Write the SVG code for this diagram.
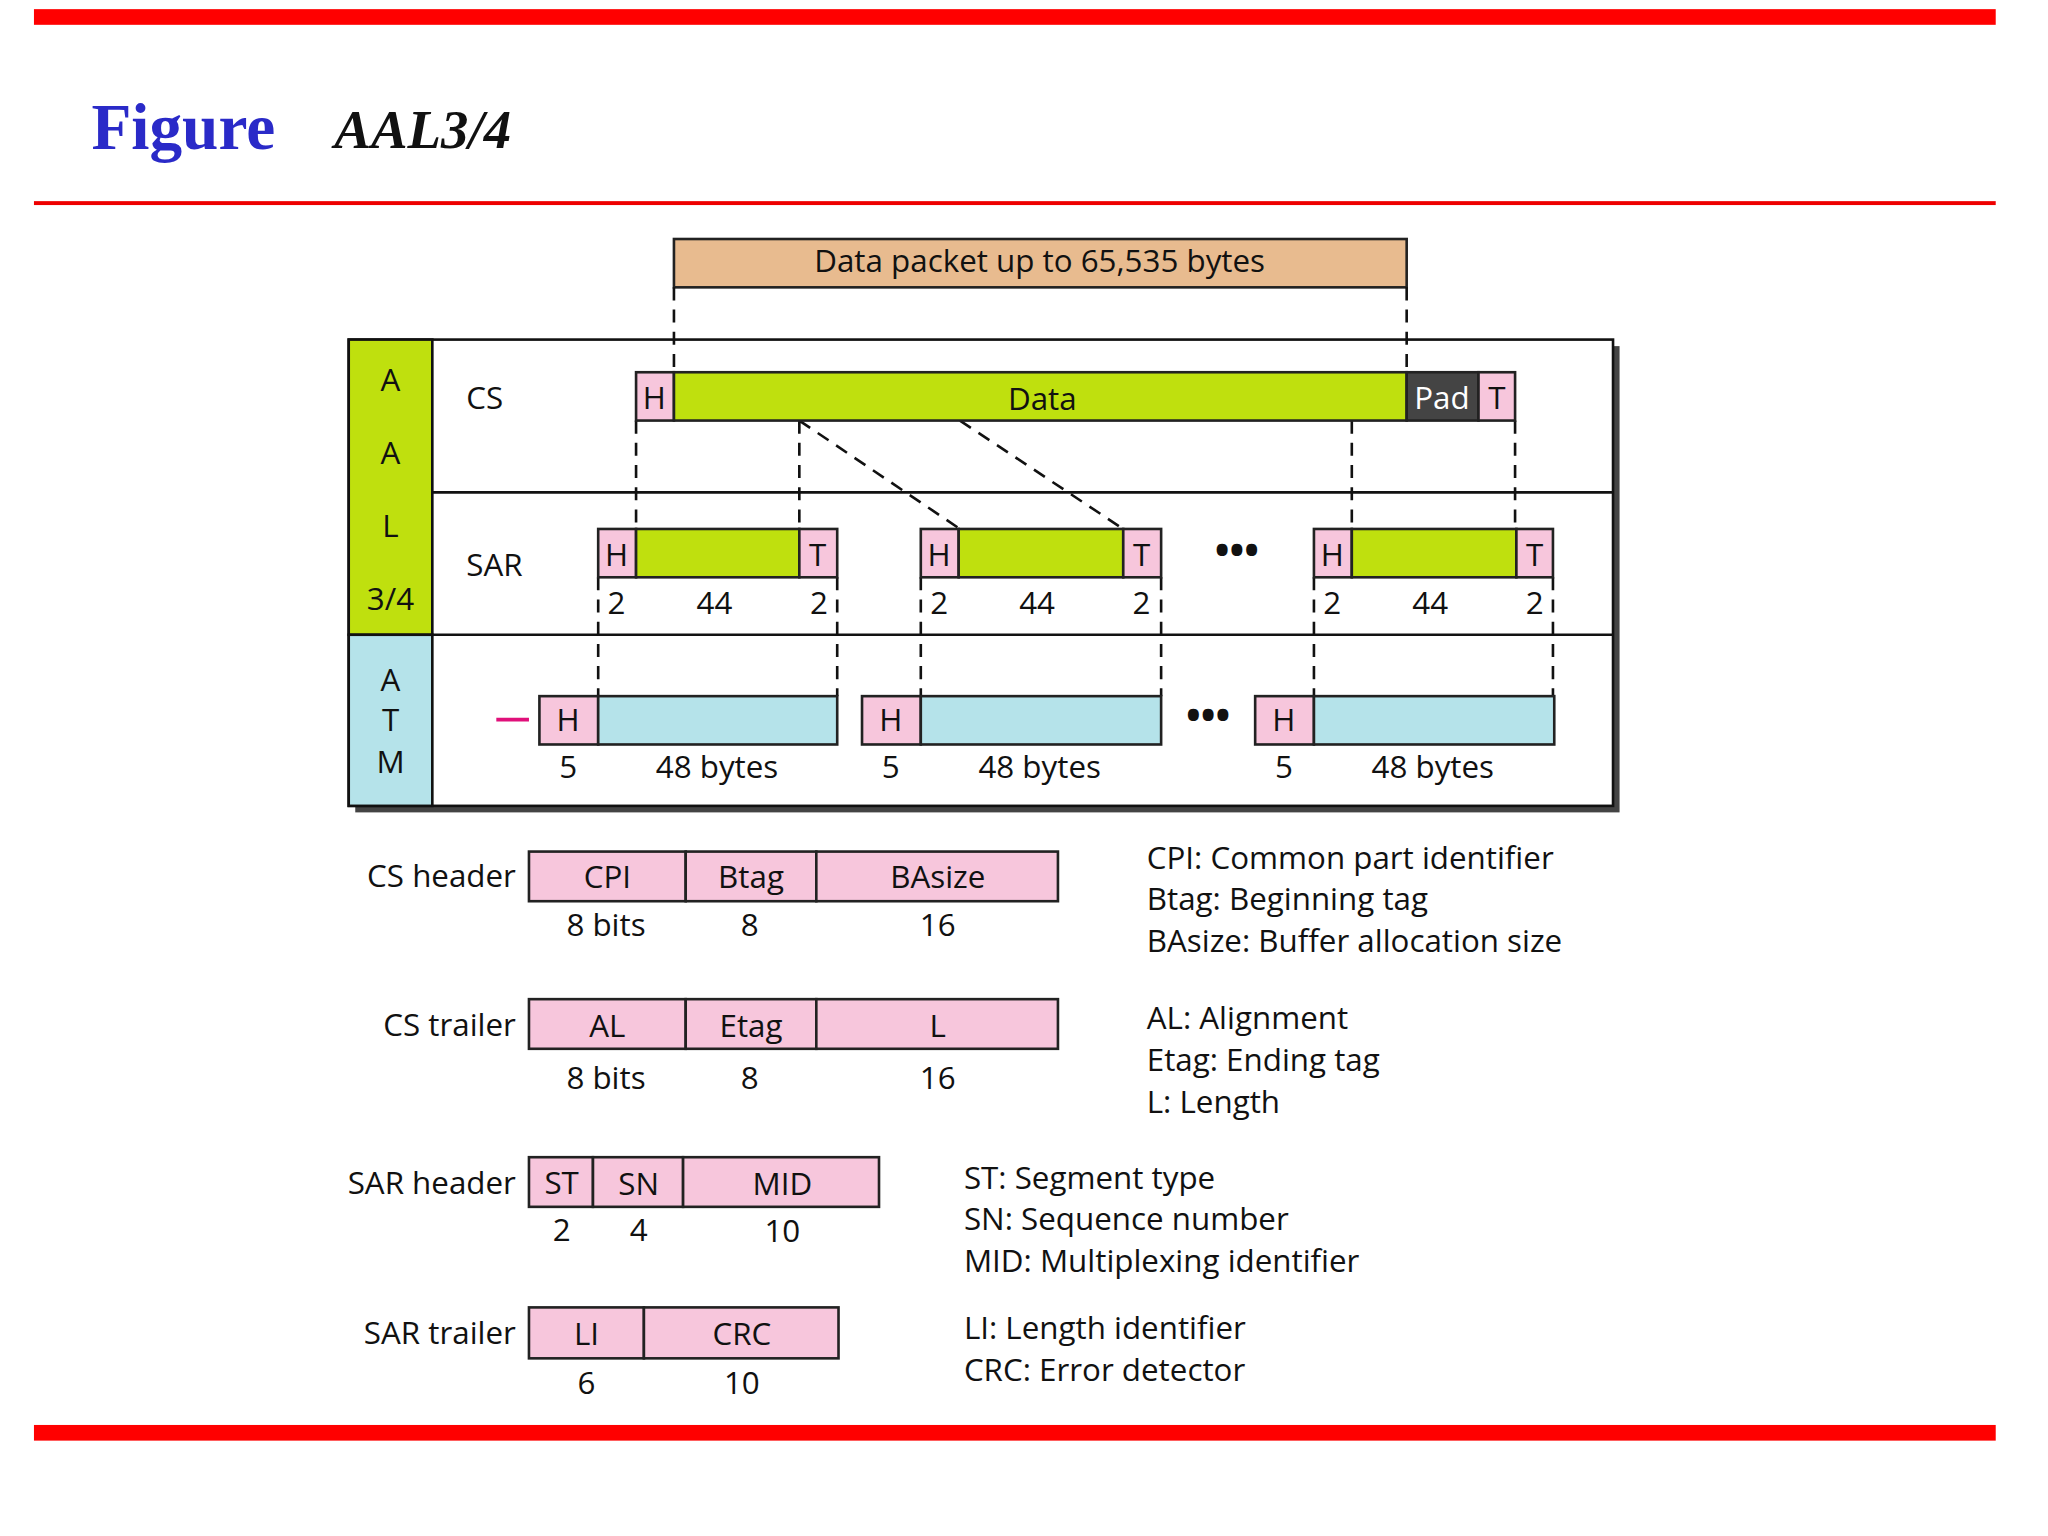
<svg xmlns="http://www.w3.org/2000/svg" width="2048" height="1536" viewBox="0 0 2048 1536">
<style>
text{font-family:"Open Sans","Liberation Sans",sans-serif;font-size:24px;fill:#111}
.c{text-anchor:middle}
.r{text-anchor:end}
.pk{fill:#f7c6dc;stroke:#222;stroke-width:2}
.gr{fill:#bfe00e;stroke:#222;stroke-width:2}
.bl{fill:#b5e3ea;stroke:#222;stroke-width:2}
.ln{stroke:#111;stroke-width:2;fill:none}
.ds{stroke:#111;stroke-width:2;fill:none;stroke-dasharray:10,7}
</style>
<rect width="2048" height="1536" fill="#fff"/>
<g transform="scale(1.3061)">
<g id="frame">
<rect x="26" y="7" width="1502" height="12" fill="#f00"/>
<rect x="26" y="154" width="1502" height="3" fill="#e00"/>
<rect x="26" y="1091" width="1502" height="12" fill="#f00"/>
<text x="70" y="114" style="font-family:'Liberation Serif',serif;font-size:50px;font-weight:bold;fill:#2a2ac8">Figure</text>
<text x="256" y="113" style="font-family:'Liberation Serif',serif;font-size:42px;font-weight:bold;font-style:italic">AAL3/4</text>
</g>
<g id="packet">
<rect x="516" y="183" width="561" height="37" fill="#e8bb8f" stroke="#222" stroke-width="2"/>
<text x="796" y="208" class="c">Data packet up to 65,535 bytes</text>
</g>
<g id="mainbox">
<rect x="272" y="265" width="968" height="357" fill="#444"/>
<rect x="267" y="260" width="968" height="357" fill="#fff" stroke="#111" stroke-width="2"/>
<rect x="267" y="260" width="64" height="226" fill="#bfe00e" stroke="#111" stroke-width="2"/>
<rect x="267" y="486" width="64" height="131" fill="#b5e3ea" stroke="#111" stroke-width="2"/>
<line x1="331" y1="377" x2="1235" y2="377" class="ln"/>
<line x1="331" y1="486" x2="1235" y2="486" class="ln"/>
<text x="299" y="299" class="c">A</text><text x="299" y="355" class="c">A</text>
<text x="299" y="411" class="c">L</text><text x="299" y="467" class="c">3/4</text>
<text x="299" y="529" class="c">A</text><text x="299" y="560" class="c">T</text><text x="299" y="592" class="c">M</text>
<text x="357" y="313">CS</text><text x="357" y="441">SAR</text>
</g>
<g id="connectors">
<path class="ds" d="M516 220V285M1077 220V285M487 322V405M612 322V405M1035 322V405M1160 322V405M612 322L735 405M735 322L860 405"/>
<path class="ds" d="M458 442V533M641 442V533M705 442V533M889 442V533M1006 442V533M1189 442V533"/>
<line x1="380" y1="551" x2="405" y2="551" stroke="#e0107a" stroke-width="3"/>
</g>
<g id="cs">
<rect x="487" y="285" width="29" height="37" class="pk"/><text x="501" y="313" class="c">H</text>
<rect x="516" y="285" width="561" height="37" class="gr"/><text x="798" y="314" class="c">Data</text>
<rect x="1077" y="285" width="55" height="37" fill="#444" stroke="#222" stroke-width="2"/><text x="1104" y="313" class="c" style="fill:#fff">Pad</text>
<rect x="1132" y="285" width="28" height="37" class="pk"/><text x="1146" y="313" class="c">T</text>
</g>
<g id="sar">
<rect x="458" y="405" width="29" height="37" class="pk"/><text x="472" y="433" class="c">H</text>
<rect x="487" y="405" width="125" height="37" class="gr"/>
<rect x="612" y="405" width="29" height="37" class="pk"/><text x="626" y="433" class="c">T</text>
<text x="472" y="470" class="c">2</text><text x="547" y="470" class="c">44</text><text x="627" y="470" class="c">2</text>
<rect x="705" y="405" width="29" height="37" class="pk"/><text x="719" y="433" class="c">H</text>
<rect x="734" y="405" width="126" height="37" class="gr"/>
<rect x="860" y="405" width="29" height="37" class="pk"/><text x="874" y="433" class="c">T</text>
<text x="719" y="470" class="c">2</text><text x="794" y="470" class="c">44</text><text x="874" y="470" class="c">2</text>
<rect x="1006" y="405" width="29" height="37" class="pk"/><text x="1020" y="433" class="c">H</text>
<rect x="1035" y="405" width="126" height="37" class="gr"/>
<rect x="1161" y="405" width="28" height="37" class="pk"/><text x="1175" y="433" class="c">T</text>
<text x="1020" y="470" class="c">2</text><text x="1095" y="470" class="c">44</text><text x="1175" y="470" class="c">2</text>
<text x="947" y="432" class="c" style="font-size:30px;font-weight:bold">•••</text>
</g>
<g id="atm">
<rect x="413" y="533" width="45" height="37" class="pk"/><text x="435" y="560" class="c">H</text>
<rect x="458" y="533" width="183" height="37" class="bl"/>
<text x="435" y="596" class="c">5</text><text x="549" y="596" class="c">48 bytes</text>
<rect x="660" y="533" width="45" height="37" class="pk"/><text x="682" y="560" class="c">H</text>
<rect x="705" y="533" width="184" height="37" class="bl"/>
<text x="682" y="596" class="c">5</text><text x="796" y="596" class="c">48 bytes</text>
<rect x="961" y="533" width="45" height="37" class="pk"/><text x="983" y="560" class="c">H</text>
<rect x="1006" y="533" width="184" height="37" class="bl"/>
<text x="983" y="596" class="c">5</text><text x="1097" y="596" class="c">48 bytes</text>
<text x="925" y="558" class="c" style="font-size:30px;font-weight:bold">•••</text>
</g>
<g id="csheader">
<text x="395" y="679" class="r">CS header</text>
<rect x="405" y="652" width="120" height="38" class="pk"/><text x="465" y="680" class="c">CPI</text>
<rect x="525" y="652" width="100" height="38" class="pk"/><text x="575" y="680" class="c">Btag</text>
<rect x="625" y="652" width="185" height="38" class="pk"/><text x="718" y="680" class="c">BAsize</text>
<text x="464" y="717" class="c">8 bits</text><text x="574" y="717" class="c">8</text><text x="718" y="717" class="c">16</text>
<text x="878" y="665">CPI: Common part identifier</text>
<text x="878" y="697">Btag: Beginning tag</text>
<text x="878" y="729">BAsize: Buffer allocation size</text>
</g>
<g id="cstrailer">
<text x="395" y="793" class="r">CS trailer</text>
<rect x="405" y="765" width="120" height="38" class="pk"/><text x="465" y="794" class="c">AL</text>
<rect x="525" y="765" width="100" height="38" class="pk"/><text x="575" y="794" class="c">Etag</text>
<rect x="625" y="765" width="185" height="38" class="pk"/><text x="718" y="794" class="c">L</text>
<text x="464" y="834" class="c">8 bits</text><text x="574" y="834" class="c">8</text><text x="718" y="834" class="c">16</text>
<text x="878" y="788">AL: Alignment</text>
<text x="878" y="820">Etag: Ending tag</text>
<text x="878" y="852">L: Length</text>
</g>
<g id="sarheader">
<text x="395" y="914" class="r">SAR header</text>
<rect x="405" y="886" width="49" height="38" class="pk"/><text x="430" y="914" class="c">ST</text>
<rect x="454" y="886" width="69" height="38" class="pk"/><text x="489" y="915" class="c">SN</text>
<rect x="523" y="886" width="150" height="38" class="pk"/><text x="599" y="915" class="c">MID</text>
<text x="430" y="950" class="c">2</text><text x="489" y="950" class="c">4</text><text x="599" y="951" class="c">10</text>
<text x="738" y="910">ST: Segment type</text>
<text x="738" y="942">SN: Sequence number</text>
<text x="738" y="974">MID: Multiplexing identifier</text>
</g>
<g id="sartrailer">
<text x="395" y="1029" class="r">SAR trailer</text>
<rect x="405" y="1001" width="88" height="39" class="pk"/><text x="449" y="1030" class="c">LI</text>
<rect x="493" y="1001" width="149" height="39" class="pk"/><text x="568" y="1030" class="c">CRC</text>
<text x="449" y="1067" class="c">6</text><text x="568" y="1067" class="c">10</text>
<text x="738" y="1025">LI: Length identifier</text>
<text x="738" y="1057">CRC: Error detector</text>
</g>
</g>
</svg>
